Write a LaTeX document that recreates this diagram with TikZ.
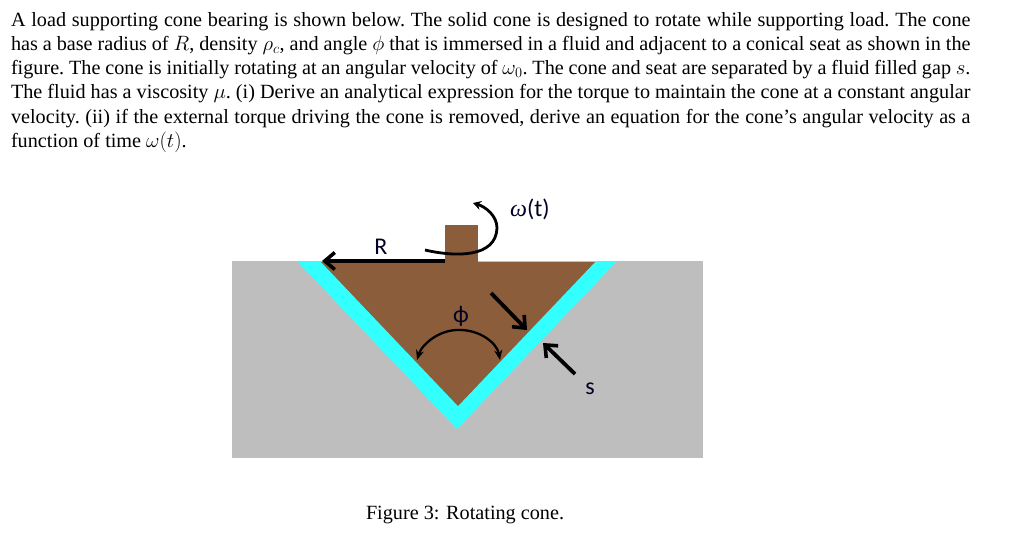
\documentclass[tikz,border=0pt]{standalone}
\usepackage{fontspec}
\setmainfont{Liberation Serif}
\newfontfamily\labelfont{Carlito}
\usetikzlibrary{arrows.meta}
\definecolor{seat}{RGB}{190,190,190}
\definecolor{gapc}{RGB}{51,255,255}
\definecolor{conec}{RGB}{140,93,58}
\newcommand{\para}[1]{\fontsize{20.2pt}{24pt}\selectfont\frenchspacing\makebox[959.5pt][s]{#1}}
\tikzset{
  textline/.style={anchor=base west,inner sep=0pt,outer sep=0pt},
  lab/.style={inner sep=0pt,outer sep=0pt,text=black!85!blue,font=\labelfont\fontsize{24pt}{26pt}\selectfont},
  bigarrow/.style={line width=3.8pt,-{Straight Barb[length=10pt,width=17pt,line width=3.6pt]}},
  thinarrow/.style={line width=2.3pt,-{Stealth[length=10pt,width=8pt]}},
}
\begin{document}
\begin{tikzpicture}[x=1pt,y=-1pt]
\useasboundingbox[fill=white] (0,0) rectangle (1024,536);
% seat, gap, cone
\fill[seat] (232,261) rectangle (703,458);
\fill[gapc] (297,261) -- (617,261) -- (457,429) -- cycle;
\fill[conec] (321,262) -- (595,262) -- (458,406) -- cycle;
\fill[conec] (445,225) rectangle (478,262);
% text
\node[textline] (l1) at (11,26) {\para{A load supporting cone bearing is shown below. The solid cone is designed to rotate while supporting load. The cone}};
\node[textline] (l2) at (11,50.3) {\para{has a base radius of $R$, density $\rho_c$, and angle $\phi$ that is immersed in a fluid and adjacent to a conical seat as shown in the}};
\node[textline] (l3) at (11,74.6) {\para{figure. The cone is initially rotating at an angular velocity of $\omega_0$. The cone and seat are separated by a fluid filled gap $s$.}};
\node[textline] (l4) at (11,98.9) {\para{The fluid has a viscosity $\mu$. (i) Derive an analytical expression for the torque to maintain the cone at a constant angular}};
\node[textline] (l5) at (11,123.2) {\para{velocity. (ii) if the external torque driving the cone is removed, derive an equation for the cone’s angular velocity as a}};
\node[textline] (l6) at (11,147.5) {\fontsize{20.2pt}{24pt}\selectfont function of time $\omega(t)$.};
\node[textline] (cap) at (366,519.5) {\fontsize{20.2pt}{24pt}\selectfont Figure 3: Rotating cone.};
% labels
\node[lab] (rlab) at (381,247) {R};
\node[lab] (wlab) at (530,209) {{\rmfamily\itshape ω}(t)};
\node[lab] (philab) at (461,316) {ϕ};
\node[lab] (slab) at (590,388.5) {s};
% connector ends
\coordinate (ra) at (445,261);
\coordinate (rb) at (322,261);
\coordinate (wa) at (425,250);
\coordinate (wb) at (473,203);
\coordinate (pa) at (460,330);
\coordinate (pl) at (417,360);
\coordinate (pr) at (500,360);
\coordinate (s1a) at (491,293);
\coordinate (s1b) at (527,330);
\coordinate (s2a) at (575,374);
\coordinate (s2b) at (543,343);
\draw[bigarrow] (ra) -- (rb);
\draw[line width=2.8pt,-{Stealth[length=8pt,width=9pt]}] (wa) .. controls (455,257) and (496,258) .. (497,228) .. controls (497,216) and (486,207) .. (wb);
\draw[thinarrow] (pa) .. controls (440,329) and (422,344) .. (pl);
\draw[thinarrow] (pa) .. controls (480,330) and (497,343) .. (pr);
\draw[bigarrow] (s1a) -- (s1b);
\draw[bigarrow] (s2a) -- (s2b);
\end{tikzpicture}
\end{document}
